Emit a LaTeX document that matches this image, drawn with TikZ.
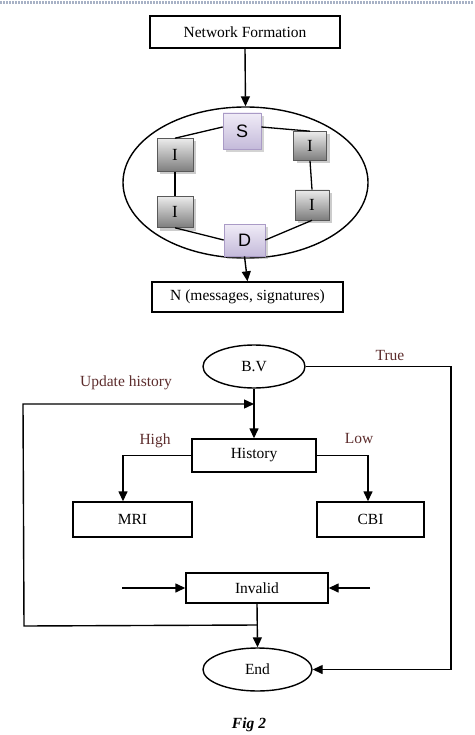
\documentclass[tikz,border=0pt]{standalone}
\usepackage{fontspec}
\setmainfont{Liberation Serif}
\newfontfamily\arialf{Liberation Sans}
\usetikzlibrary{shapes.geometric,arrows.meta,shadows,calc}
\definecolor{lbl}{RGB}{92,44,44}
\definecolor{lavtop}{RGB}{240,236,247}
\definecolor{lavbot}{RGB}{196,186,218}
\definecolor{lavdraw}{RGB}{170,155,198}
\definecolor{gtop}{RGB}{235,235,235}
\definecolor{gbot}{RGB}{125,125,125}
\definecolor{dotc}{RGB}{168,178,198}
\tikzset{
  txt/.style={font=\fontsize{15.5}{18}\selectfont},
  box/.style={draw, line width=1.4pt, txt, inner sep=0pt},
  oval/.style={draw, ellipse, line width=1.4pt, txt, inner sep=0pt},
  conn/.style={line width=1.3pt},
  arr/.style={line width=1.4pt, -{Triangle[length=10pt,width=9pt]}},
  inode/.style={draw=gray!70!black, line width=0.6pt, top color=gtop, bottom color=gbot,
     inner sep=0pt, font=\fontsize{17}{18}\selectfont,
     drop shadow={shadow xshift=3pt, shadow yshift=-3pt, opacity=0.4}},
  lnode/.style={draw=lavdraw, line width=0.7pt, top color=lavtop, bottom color=lavbot,
     inner sep=0pt, font=\arialf\fontsize{18}{20}\selectfont,
     drop shadow={shadow xshift=3pt, shadow yshift=-3pt, opacity=0.35}},
  lab/.style={txt, text=lbl},
}
\begin{document}
\begin{tikzpicture}[x=1pt,y=-1pt]
\useasboundingbox (0,0) rectangle (474,735);
\draw[dotc, line width=3pt, dash pattern=on 1.5pt off 1.5pt] (0,2.5) -- (474,2.5);

% top part
\node[box, minimum width=190pt, minimum height=32pt] (nf) at (245,32) {Network Formation};
\node[oval, minimum width=245pt, minimum height=151pt] (net) at (245.5,182.5) {};
\node[lnode, minimum width=38pt, minimum height=36pt] (S) at (242,131) {S};
\node[lnode, minimum width=41pt, minimum height=32pt] (D) at (244.5,240) {D};
\node[inode, minimum width=36pt, minimum height=33pt] (I1) at (175,155) {I};
\node[inode, minimum width=36pt, minimum height=31pt] (I2) at (175,212) {I};
\node[inode, minimum width=33pt, minimum height=29pt] (I3) at (310,146) {I};
\node[inode, minimum width=34pt, minimum height=30pt] (I4) at (312,205) {I};
\node[box, minimum width=191pt, minimum height=30pt] (N) at (247.5,297) {N (messages, signatures)};

\draw[arr] (nf.south) -- (net.north);
\draw[conn] ($(S.west)+(0,-4)$) -- (I1.north);
\draw[conn] ($(S.east)+(0,-4)$) -- (I3.north);
\draw[conn] (I1.south) -- (I2.north);
\draw[conn] (I3.south) -- (I4.north);
\draw[conn] (I2.south) -- (D.west);
\draw[conn] (D.east) -- (I4.south);
\draw[arr] (D.south) -- (N.north);

% bottom part
\node[oval, minimum width=102pt, minimum height=43pt] (bv) at (254,366.5) {B.V};
\node[box, minimum width=124pt, minimum height=33pt] (hist) at (254,455.5) {History};
\node[box, minimum width=119pt, minimum height=35pt] (mri) at (132.5,519.5) {MRI};
\node[box, minimum width=107pt, minimum height=35pt] (cbi) at (370.5,519.5) {CBI};
\node[box, minimum width=142pt, minimum height=30pt] (inv) at (257,588) {Invalid};
\node[oval, minimum width=109pt, minimum height=43pt] (end) at (257.5,669.5) {End};

\coordinate (hl) at (123,455.5);
\coordinate (hr) at (368,455.5);
\coordinate (merge) at (254,404);
\coordinate (ul) at (23,404);
\coordinate (bl) at (24,626);
\coordinate (jn) at (257,625);
\coordinate (invl) at (122,588);
\coordinate (invr) at (370,588);
\coordinate (tr) at (451,366.5);
\coordinate (br) at (451,669.5);

\draw[arr] (bv.south) -- (hist.north);
\draw[arr] (jn) -- (bl) -- (ul) -- (merge);
\draw[arr] (hist.west) -- (hl) -- (hl |- mri.north);
\draw[arr] (hist.east) -- (hr) -- (hr |- cbi.north);
\draw[arr] (invl) -- (inv.west);
\draw[arr] (invr) -- (inv.east);
\draw[arr] (inv.south) -- (end.north);
\draw[arr] (bv.east) -- (tr) -- (br) -- (end.east);

\node[lab] (tupd) at (126,383) {Update history};
\node[lab] (thigh) at (155,441) {High};
\node[lab] (tlow) at (359,438) {Low};
\node[lab] (ttrue) at (390,355) {True};
\node[txt, font=\fontsize{15.5}{18}\selectfont\bfseries\itshape] (fig) at (249,725) {Fig 2};
\end{tikzpicture}
\end{document}
